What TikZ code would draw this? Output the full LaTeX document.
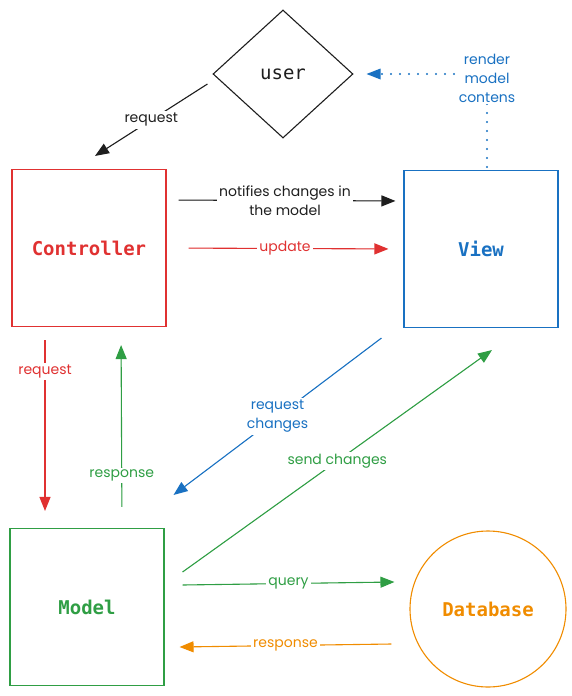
\documentclass[tikz,border=0pt]{standalone}
\usepackage{fontspec}
\setmonofont{DejaVu Sans Mono}
\newfontfamily\handfont{Poppins}
\usetikzlibrary{arrows.meta,shapes.geometric}

\definecolor{inkblack}{HTML}{1E1E1E}
\definecolor{inkred}{HTML}{E03131}
\definecolor{inkblue}{HTML}{1971C2}
\definecolor{inkgreen}{HTML}{2F9E44}
\definecolor{inkorange}{HTML}{F08C00}

\begin{document}
\begin{tikzpicture}
[x=1pt,y=-1pt,
 box/.style={draw,line width=1.1pt,minimum width=154pt,minimum height=157pt,
   font=\ttfamily\bfseries\fontsize{19}{22}\selectfont},
 be/.style={line width=1.1pt,arrows={-Triangle[length=14pt,width=11pt]}},
 lbl/.style={fill=white,inner sep=2pt,align=center,
   font=\handfont\fontsize{14}{19}\selectfont}]
\useasboundingbox (0,0) rectangle (572,696);

\node[draw=inkblack,text=inkblack,diamond,line width=1.1pt,inner sep=0pt,
  minimum width=140pt,minimum height=128pt,
  font=\ttfamily\fontsize{19}{22}\selectfont] (user) at (283,74) {user};
\node[box,draw=inkred,text=inkred] (ctrl) at (89,248) {Controller};
\node[box,draw=inkblue,text=inkblue] (view) at (481,249) {View};
\node[box,draw=inkgreen,text=inkgreen] (model) at (87,607) {Model};
\node[circle,draw=inkorange,text=inkorange,line width=1.1pt,minimum size=156pt,
  font=\ttfamily\bfseries\fontsize{19}{22}\selectfont] (db) at (488,609) {Database};

% end points off the shapes
\path (user.west) +(-5,10) coordinate (u1);
\path (ctrl.north) +(6,-13) coordinate (c1);
\path (view.north) +(6,-3) coordinate (v1);
\path (user.east) +(13,0) coordinate (u2);
\path (view.south west) +(-22,10) coordinate (v2);
\path (model.north east) +(9,-33) coordinate (m1);
\path (model.east) +(18,-35) coordinate (m2);
\path (view.south) +(11,22) coordinate (v3);
\path (model.east) +(18,-22) coordinate (m3);
\path (db.west) +(-15,-27) coordinate (d1);
\path (db.west) +(-18,35) coordinate (d2);
\path (model.east) +(15,40) coordinate (m4);

\draw[be,draw=inkblack,fill=inkblack] (u1) -- node[lbl,text=inkblack] {request} (c1);
\draw[line width=2.2pt,draw=inkblue,line cap=round,dash pattern=on 0pt off 9pt,
  arrows={-Triangle[length=14pt,width=11pt,fill=inkblue,line width=0pt]}]
  (v1) |- node[lbl,text=inkblue,pos=0.5,yshift=-4pt] {render\\model\\contens} (u2);
\draw[be,draw=inkblack,fill=inkblack,shorten <=12pt,shorten >=8pt]
  ([yshift=48pt]ctrl.east) -- node[lbl,text=inkblack] {notifies changes in\\the model}
  ([yshift=48pt]view.west);
\draw[be,draw=inkred,fill=inkred,shorten <=22pt,shorten >=15pt]
  (ctrl.east) -- node[lbl,text=inkred] {update} (view.west);
\draw[be,draw=inkred,fill=inkred,shorten <=13pt,shorten >=17pt]
  ([xshift=-44pt]ctrl.south) -- node[lbl,text=inkred,pos=0.22] {request}
  ([xshift=-42pt]model.north);
\draw[be,draw=inkgreen,fill=inkgreen,shorten <=21pt,shorten >=18pt]
  ([xshift=35pt]model.north) -- node[lbl,text=inkgreen,pos=0.26] {response}
  ([xshift=32pt]ctrl.south);
\draw[be,draw=inkblue,fill=inkblue] (v2) -- node[lbl,text=inkblue] {request\\changes} (m1);
\draw[be,draw=inkgreen,fill=inkgreen] (m2) -- node[lbl,text=inkgreen] {send changes} (v3);
\draw[be,draw=inkgreen,fill=inkgreen] (m3) -- node[lbl,text=inkgreen] {query} (d1);
\draw[be,draw=inkorange,fill=inkorange] (d2) -- node[lbl,text=inkorange] {response} (m4);

\end{tikzpicture}
\end{document}
